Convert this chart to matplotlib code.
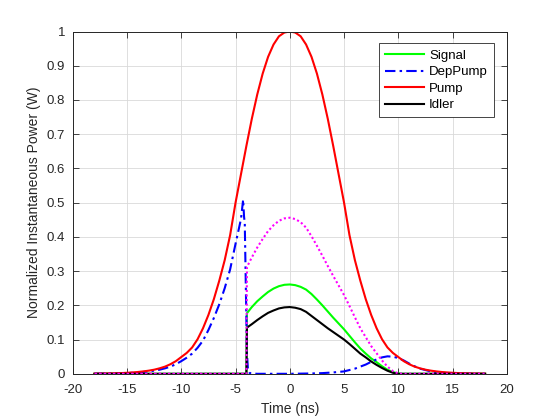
import matplotlib
matplotlib.use("Agg")
import matplotlib.pyplot as plt

# ---------------- data ----------------
t_pump = [-18, -17.5, -17, -16.5, -16, -15.5, -15, -14.5, -14, -13.5, -13, -12.5, -12,
          -11.5, -11, -10.5, -10, -9.5, -9, -8.5, -8, -7.5, -7, -6.5, -6, -5.5, -5,
          -4.5, -4, -3.5, -3, -2.5, -2, -1.5, -1, -0.5, 0, 0.5, 1, 1.5, 2, 2.5, 3, 3.5,
          4, 4.5, 5, 5.5, 6, 6.5, 7, 7.5, 8, 8.5, 9, 9.5, 10, 10.5, 11, 11.5, 12, 12.5,
          13, 13.5, 14, 14.5, 15, 15.5, 16, 16.5, 17, 17.5, 18]
pump = [0.0005, 0.0007, 0.001, 0.0013, 0.0017, 0.0022, 0.003, 0.004, 0.0053, 0.007,
        0.0092, 0.012, 0.016, 0.021, 0.028, 0.037, 0.049, 0.061, 0.077, 0.101, 0.133,
        0.172, 0.218, 0.272, 0.332, 0.405, 0.500, 0.583, 0.666, 0.745, 0.816, 0.877,
        0.926, 0.962, 0.986, 0.997, 1.000, 0.997, 0.986, 0.962, 0.926, 0.877, 0.816,
        0.745, 0.666, 0.583, 0.500, 0.405, 0.332, 0.272, 0.218, 0.172, 0.133, 0.101,
        0.077, 0.061, 0.049, 0.037, 0.028, 0.021, 0.016, 0.012, 0.0092, 0.007, 0.0053,
        0.004, 0.003, 0.0022, 0.0017, 0.0013, 0.001, 0.0007, 0.0005]

t_dep = [-18, -17.5, -17, -16.5, -16, -15.5, -15, -14.5, -14, -13.5, -13, -12.5, -12,
         -11.5, -11, -10.5, -10, -9.5, -9, -8.5, -8, -7.5, -7, -6.5, -6, -5.5, -5,
         -4.5, -4.3, -4.22, -4.15, -4.05, -3.95, -3.85, -3.7, -3.5, -3, -2, -1, 0, 1,
         2, 3, 4, 5, 6, 7, 7.5, 8, 8.5, 9, 9.5, 10, 10.5, 11, 11.5, 12, 13, 14, 15,
         16, 17, 18]
dep_pump = [0.0004, 0.0005, 0.0008, 0.001, 0.0013, 0.0017, 0.0023, 0.003, 0.004,
            0.0054, 0.007, 0.0092, 0.012, 0.016, 0.021, 0.028, 0.037, 0.047, 0.059,
            0.076, 0.097, 0.128, 0.163, 0.203, 0.250, 0.305, 0.380, 0.452, 0.509,
            0.460, 0.440, 0.250, 0.060, 0.010, 0.002, 0.001, 0.0, 0.0, 0.0, 0.0,
            0.0005, 0.001, 0.002, 0.004, 0.007, 0.015, 0.027, 0.035, 0.042, 0.048,
            0.051, 0.050, 0.046, 0.039, 0.030, 0.022, 0.015, 0.007, 0.003, 0.001,
            0.0003, 0.0, 0.0]

t_si = [-18, -10, -4.0, -3.95, -3.5, -3, -2.5, -2, -1.5, -1, -0.5, 0, 0.5, 1, 1.5, 2,
        2.5, 3, 3.5, 4, 4.5, 5, 5.5, 6, 6.5, 7, 7.5, 8, 8.5, 9, 9.5, 10, 10.5, 14, 18]
signal = [0, 0, 0, 0.177, 0.195, 0.212, 0.226, 0.239, 0.249, 0.256, 0.260, 0.261,
          0.259, 0.254, 0.246, 0.233, 0.217, 0.200, 0.182, 0.164, 0.147, 0.130,
          0.111, 0.092, 0.074, 0.059, 0.045, 0.034, 0.022, 0.012, 0.005, 0.001, 0,
          0, 0]
idler = [0, 0, 0, 0.135, 0.145, 0.157, 0.168, 0.178, 0.185, 0.191, 0.194, 0.195,
         0.193, 0.189, 0.181, 0.169, 0.157, 0.145, 0.133, 0.122, 0.111, 0.100,
         0.087, 0.073, 0.059, 0.048, 0.036, 0.026, 0.017, 0.009, 0.003, 0.0, 0,
         0, 0]
total_si = [0, 0, 0, 0.312, 0.340, 0.369, 0.394, 0.417, 0.434, 0.447, 0.454, 0.456,
            0.452, 0.443, 0.427, 0.402, 0.374, 0.345, 0.315, 0.286, 0.258, 0.230,
            0.198, 0.165, 0.133, 0.107, 0.081, 0.060, 0.039, 0.021, 0.008, 0.001, 0,
            0, 0]

x_ticks = [-20, -15, -10, -5, 0, 5, 10, 15, 20]
y_ticks = [0, 0.1, 0.2, 0.3, 0.4, 0.5, 0.6, 0.7, 0.8, 0.9, 1]
y_tick_labels = ["0", "0.1", "0.2", "0.3", "0.4", "0.5", "0.6", "0.7", "0.8", "0.9", "1"]

# ---------------- figure ----------------
plt.rcParams['font.family'] = ['Liberation Sans', 'DejaVu Sans']
fig = plt.figure(figsize=(5.6, 4.2), dpi=100)
ax = fig.add_axes([0.13, 0.11, 0.775, 0.815])

lw = 1.5
ax.plot(t_si, signal, color=(0, 1, 0), lw=lw, label='Signal')
ax.plot(t_dep, dep_pump, color=(0, 0, 1), lw=lw, dashes=(5, 2, 1.2, 2), label='DepPump')
ax.plot(t_pump, pump, color=(1, 0, 0), lw=lw, label='Pump')
ax.plot(t_si, idler, color='black', lw=lw, label='Idler')
ax.plot(t_si, total_si, color=(1, 0, 1), lw=lw, linestyle=(0, (1, 1.2)))
ax.plot([t_pump[0], -4.0], [0, 0], color=(1, 0, 1), lw=lw, linestyle=(0, (1, 1.2)))

ax.set_xlim(-20, 20)
ax.set_ylim(0, 1)
ax.set_xticks(x_ticks)
ax.set_xticklabels([str(v) for v in x_ticks])
ax.set_yticks(y_ticks)
ax.set_yticklabels(y_tick_labels)

axc = (0.15, 0.15, 0.15)
ax.grid(True, color=(0.85, 0.85, 0.85), lw=0.6)
ax.set_axisbelow(True)
ax.tick_params(direction='in', top=True, right=True, length=4, width=0.6,
               colors=axc, labelsize=9.5, labelcolor=axc)
ax.tick_params(axis='x', pad=7)
ax.tick_params(axis='y', pad=5.5)
for s in ax.spines.values():
    s.set_color(axc)
    s.set_linewidth(0.7)

ax.set_xlabel('Time (ns)', fontsize=10, color=axc, labelpad=5)
ax.set_ylabel('Normalized Instantaneous Power (W)', fontsize=10, color=axc, labelpad=4)

leg = ax.legend(loc='upper right', bbox_to_anchor=(0.97, 0.965), fontsize=9.5,
                frameon=True, fancybox=False, framealpha=1, edgecolor=axc,
                handlelength=3.0, handletextpad=0.35, borderpad=0.45, labelspacing=0.33,
                borderaxespad=0.0)
leg.get_frame().set_linewidth(0.6)

fig.savefig('out.png', dpi=100)
